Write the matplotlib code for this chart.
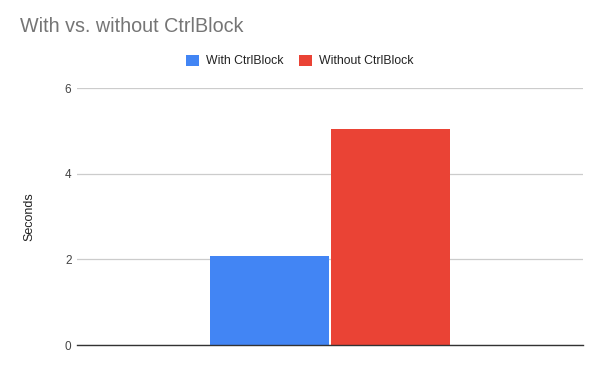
import matplotlib
matplotlib.use("Agg")
import matplotlib.pyplot as plt
from matplotlib.patches import Patch

series = ["With CtrlBlock", "Without CtrlBlock"]
values = [2.08, 5.05]
colors = ["#4285F4", "#EA4335"]
yticks = [0, 2, 4, 6]

plt.rcParams['font.family'] = ['Liberation Sans', 'DejaVu Sans']

fig = plt.figure(figsize=(6, 3.71), dpi=100)
ax = fig.add_axes([77/600, 26/371, 506/600, (345-88.3)/371])

w = 118.7/506
gap = 2.6/506
offsets = [-(w+gap)/2, (w+gap)/2]
for s, v, c, o in zip(series, values, colors, offsets):
    ax.bar(o, v, width=w, color=c, label=s, zorder=3)

ax.set_xlim(-0.5, 0.5)
ax.set_ylim(0, 6)
ax.set_yticks(yticks)
ax.set_yticklabels([str(t) for t in yticks], fontsize=8.5, color="#444444")
ax.tick_params(axis='y', length=0, pad=4)
ax.set_xticks([])
for sp in ["top", "right", "left"]:
    ax.spines[sp].set_visible(False)
ax.spines["bottom"].set_color("#333333")
ax.spines["bottom"].set_linewidth(1.0)
ax.spines["bottom"].set_zorder(4)
ax.grid(axis='y', color="#cccccc", linewidth=0.9, zorder=0)
ax.set_ylabel("Seconds", fontsize=9, color="#222222", labelpad=21)

fig.text(20/600, 1-32/371, "With vs. without CtrlBlock", fontsize=14.2,
         color="#757575", ha="left", va="baseline")

handles = [Patch(facecolor=c, edgecolor='none') for c in colors]
fig.legend(handles, series, loc="center", bbox_to_anchor=(0.5, 1-61/371),
           ncol=2, frameon=False, fontsize=8.8, handlelength=1.0, handleheight=1.0,
           handletextpad=0.6, columnspacing=1.3, labelcolor="#222222")

fig.savefig("out.png", dpi=100, facecolor="white")
